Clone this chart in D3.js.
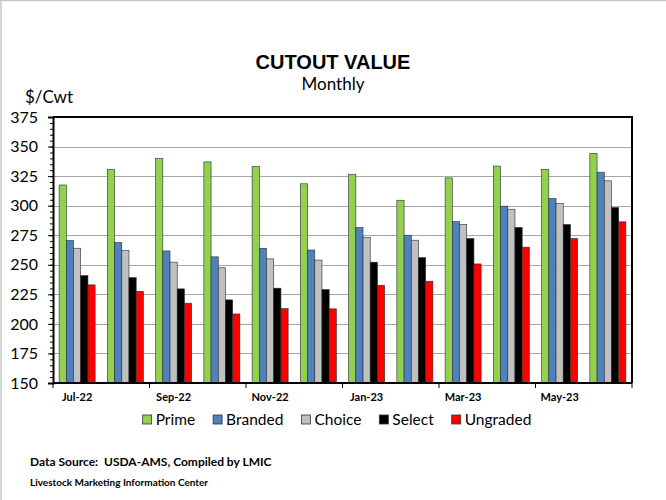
<!DOCTYPE html>
<html>
<head>
<meta charset="utf-8">
<script src="https://cdn.jsdelivr.net/npm/d3@7"></script>
<style>
  body { margin: 0; background: #fff; }
  svg { display: block; }
  text { font-family: Lato, "Open Sans", sans-serif; fill: #000; }
</style>
</head>
<body>
<div id="chart"></div>
<script>
// Monthly categories and cutout values ($/cwt)
const months = ["Jul-22", "Aug-22", "Sep-22", "Oct-22", "Nov-22", "Dec-22",
                "Jan-23", "Feb-23", "Mar-23", "Apr-23", "May-23", "Jun-23"];
const series = ["Prime", "Branded", "Choice", "Select", "Ungraded"];
const prime    = [317.5, 330.5, 339.8, 337.0, 333.2, 318.5, 326.6, 304.6, 323.5, 333.5, 330.6, 344.2];
const branded  = [270.5, 268.8, 261.7, 256.7, 264.0, 262.5, 281.4, 275.0, 286.5, 299.6, 306.0, 328.3];
const choice   = [264.0, 262.0, 252.2, 247.5, 255.0, 254.0, 273.3, 270.8, 284.0, 297.0, 301.7, 321.0];
const select   = [240.8, 239.1, 229.6, 220.3, 230.2, 229.0, 252.2, 256.0, 272.2, 281.5, 284.0, 298.4];
const ungraded = [233.0, 227.6, 217.5, 208.4, 212.9, 212.7, 232.7, 236.1, 250.7, 264.9, 272.2, 286.3];
const yTicks = [150, 175, 200, 225, 250, 275, 300, 325, 350, 375];
const xTickLabels = ["Jul-22", "Sep-22", "Nov-22", "Jan-23", "Mar-23", "May-23"];

const colors = {
    Prime: "#92d050",
    Branded: "#4f81bd",
    Choice: "#c0c0c0",
    Select: "#000000",
    Ungraded: "#ff0000"
};

const values = { Prime: prime, Branded: branded, Choice: choice, Select: select, Ungraded: ungraded };
const data = months.map((m, i) => {
    const row = { month: m };
    series.forEach(s => row[s] = values[s][i]);
    return row;
});

const W = 666, H = 500;
const plot = { left: 53, right: 632, top: 117, bottom: 383 };

const svg = d3.select("#chart").append("svg")
    .attr("width", W)
    .attr("height", H);

// light frame along top and left like the original slide
svg.append("line").attr("x1", 0).attr("x2", W).attr("y1", 0.5).attr("y2", 0.5)
    .attr("stroke", "#c8c8c8").attr("stroke-width", 1.5);
svg.append("line").attr("x1", 1).attr("x2", 1).attr("y1", 0).attr("y2", H)
    .attr("stroke", "#c8c8c8").attr("stroke-width", 1.5);

// scales
const x = d3.scaleBand()
    .domain(months)
    .range([plot.left, plot.right])
    .padding(0);

const x1 = d3.scaleBand()
    .domain(series)
    .range([0, x.bandwidth()])
    .paddingInner(0)
    .paddingOuter(0.85);

const y = d3.scaleLinear()
    .domain([150, 375])
    .range([plot.bottom, plot.top]);

// gridlines
svg.append("g")
    .selectAll("line")
    .data(yTicks.filter(d => d > 150 && d < 375))
    .enter().append("line")
    .attr("x1", plot.left)
    .attr("x2", plot.right)
    .attr("y1", d => Math.round(y(d)) + 0.5)
    .attr("y2", d => Math.round(y(d)) + 0.5)
    .attr("stroke", "#a6a6a6")
    .attr("stroke-width", 1);

// bars
svg.append("g")
    .selectAll("g")
    .data(data)
    .enter().append("g")
    .attr("transform", d => `translate(${x(d.month)},0)`)
    .selectAll("rect")
    .data(d => series.map(s => ({ key: s, value: d[s] })))
    .enter().append("rect")
    .attr("x", d => x1(d.key))
    .attr("y", d => y(d.value))
    .attr("width", x1.bandwidth())
    .attr("height", d => y(150) - y(d.value))
    .attr("fill", d => colors[d.key])
    .attr("stroke", "#2b2b2b")
    .attr("stroke-width", 0.6);

// plot frame: top and right
svg.append("path")
    .attr("d", `M${plot.left},${plot.top}H${plot.right}V${plot.bottom}`)
    .attr("fill", "none")
    .attr("stroke", "#000")
    .attr("stroke-width", 2);

// y axis with minor ticks
const yAxis = svg.append("g")
    .attr("transform", `translate(${plot.left},0)`)
    .call(d3.axisLeft(y).tickValues(yTicks).tickSize(5).tickPadding(10).tickFormat(d3.format("d")));
yAxis.select(".domain").attr("stroke-width", 2);
yAxis.selectAll("text")
    .style("font-family", "Lato, sans-serif")
    .style("font-size", "16px");

svg.append("g")
    .attr("transform", `translate(${plot.left},0)`)
    .call(d3.axisLeft(y).ticks(45).tickSize(3).tickFormat(""))
    .call(g => g.select(".domain").remove());

// x axis: ticks every two months on band edges
const xAxisG = svg.append("g")
    .attr("transform", `translate(0,${plot.bottom})`);
xAxisG.append("line")
    .attr("x1", plot.left).attr("x2", plot.right)
    .attr("stroke", "#000").attr("stroke-width", 2);
xAxisG.selectAll("line.tick")
    .data(months.filter((m, i) => i % 2 === 0).concat(["end"]))
    .enter().append("line")
    .attr("class", "tick")
    .attr("x1", d => d === "end" ? plot.right : x(d))
    .attr("x2", d => d === "end" ? plot.right : x(d))
    .attr("y1", 0).attr("y2", 5)
    .attr("stroke", "#000").attr("stroke-width", 1);
xAxisG.selectAll("text")
    .data(xTickLabels)
    .enter().append("text")
    .attr("x", d => x(d) + x.bandwidth() / 2)
    .attr("y", 18)
    .attr("text-anchor", "middle")
    .style("font-size", "11px")
    .style("font-weight", "bold")
    .text(d => d);

// titles
svg.append("text")
    .attr("x", 333).attr("y", 69)
    .attr("text-anchor", "middle")
    .style("font-family", "'Liberation Sans', Arial, sans-serif")
    .style("font-weight", "bold")
    .style("font-size", "20px")
    .text("CUTOUT VALUE");

svg.append("text")
    .attr("x", 333).attr("y", 90)
    .attr("text-anchor", "middle")
    .style("font-size", "17px")
    .text("Monthly");

svg.append("text")
    .attr("x", 25).attr("y", 103)
    .style("font-size", "17px")
    .text("$/Cwt");

// legend
const legend = svg.append("g").attr("transform", "translate(0,425)");
const items = legend.selectAll("g")
    .data(series)
    .enter().append("g");
items.append("rect")
    .attr("y", -10)
    .attr("width", 9).attr("height", 9)
    .attr("fill", d => colors[d])
    .attr("stroke", "#333").attr("stroke-width", 0.8);
items.append("text")
    .attr("x", 13)
    .style("font-size", "15.5px")
    .text(d => d);
let cursor = 0;
const widths = [];
items.each(function() {
    widths.push(13 + d3.select(this).select("text").node().getComputedTextLength());
});
const total = d3.sum(widths) + 18 * (series.length - 1);
cursor = 337 - total / 2;
items.attr("transform", (d, i) => {
    const t = `translate(${cursor},0)`;
    cursor += widths[i] + 18;
    return t;
});

// source notes
svg.append("text")
    .attr("x", 30).attr("y", 466)
    .style("font-size", "12px")
    .style("font-weight", "bold")
    .attr("xml:space", "preserve")
    .style("white-space", "pre")
    .text("Data Source:  USDA-AMS, Compiled by LMIC");

svg.append("text")
    .attr("x", 30).attr("y", 486)
    .style("font-size", "10px")
    .style("font-weight", "bold")
    .text("Livestock Marketing Information Center");
</script>
</body>
</html>
